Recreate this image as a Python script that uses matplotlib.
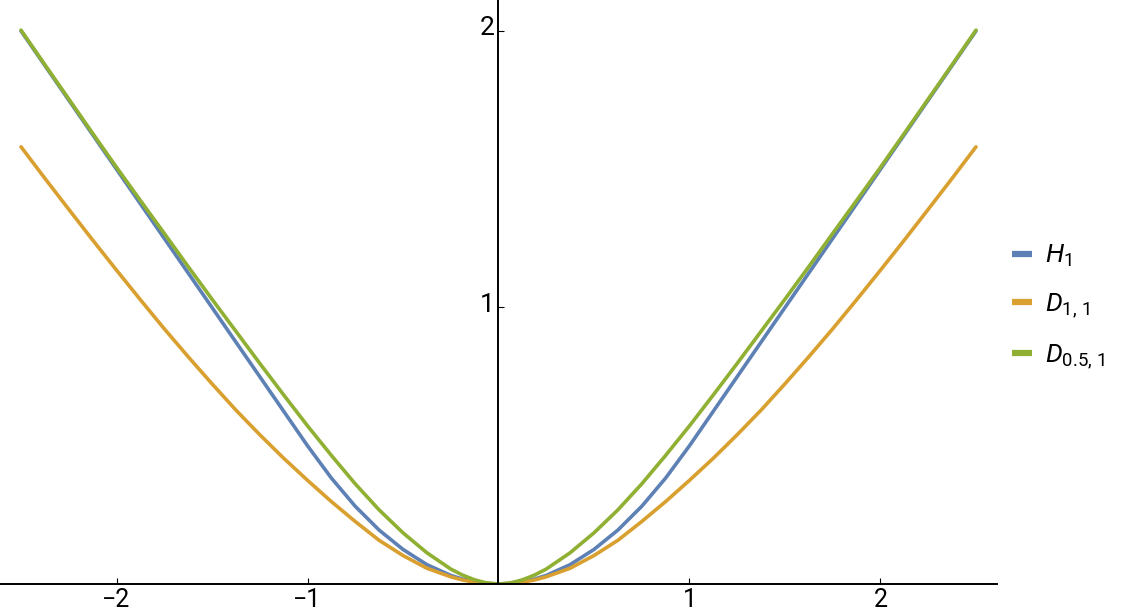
import matplotlib.pyplot as plt
from matplotlib.transforms import ScaledTranslation

plt.rcParams['font.family'] = ['Roboto', 'DejaVu Sans']
plt.rcParams['mathtext.fontset'] = 'custom'
plt.rcParams['mathtext.rm'] = 'Roboto'
plt.rcParams['mathtext.it'] = 'Roboto:italic'

x_vals = [-2.5, -2.375, -2.25, -2.125, -2.0, -1.875, -1.75, -1.625, -1.5, -1.375,
          -1.25, -1.125, -1.0, -0.875, -0.75, -0.625, -0.5, -0.375, -0.25, -0.1875,
          -0.125, -0.0625, 0.0, 0.0625, 0.125, 0.1875, 0.25, 0.375, 0.5, 0.625,
          0.75, 0.875, 1.0, 1.125, 1.25, 1.375, 1.5, 1.625, 1.75, 1.875,
          2.0, 2.125, 2.25, 2.375, 2.5]

h_1 = [2.0, 1.875, 1.75, 1.625, 1.5, 1.375, 1.25, 1.125, 1.0, 0.875,
       0.75, 0.625, 0.5, 0.383, 0.281, 0.195, 0.125, 0.070, 0.031, 0.0176,
       0.008, 0.002, 0.0, 0.002, 0.008, 0.0176, 0.031, 0.070, 0.125, 0.195,
       0.281, 0.383, 0.5, 0.625, 0.75, 0.875, 1.0, 1.125, 1.25, 1.375,
       1.5, 1.625, 1.75, 1.875, 2.0]

d_1_1 = [1.581, 1.467, 1.355, 1.244, 1.135, 1.028, 0.923, 0.822, 0.724, 0.629,
         0.54, 0.455, 0.375, 0.298, 0.226, 0.158, 0.103, 0.057, 0.026, 0.0145,
         0.0065, 0.0016, 0.0, 0.0016, 0.0065, 0.0145, 0.026, 0.057, 0.103, 0.158,
         0.226, 0.298, 0.375, 0.455, 0.54, 0.629, 0.724, 0.822, 0.923, 1.028,
         1.135, 1.244, 1.355, 1.467, 1.581]

d_05_1 = [2.003, 1.878, 1.754, 1.630, 1.507, 1.387, 1.268, 1.148, 1.03, 0.914,
          0.798, 0.684, 0.572, 0.465, 0.362, 0.268, 0.185, 0.113, 0.054, 0.032,
          0.015, 0.0038, 0.0, 0.0038, 0.015, 0.032, 0.054, 0.113, 0.185, 0.268,
          0.362, 0.465, 0.572, 0.684, 0.798, 0.914, 1.03, 1.148, 1.268, 1.387,
          1.507, 1.630, 1.754, 1.878, 2.003]

labels = [r'$H_1$', r'$D_{1,\,1}$', r'$D_{0.5,\,1}$']
colors = ['#5e81b5', '#d9a030', '#8fb032']

fig = plt.figure(figsize=(11.24, 6.16), dpi=100)
ax = fig.add_axes([0, 32 / 616, 997 / 1124, 584 / 616])

for ys, lab, col in zip([h_1, d_1_1, d_05_1], labels, colors):
    ax.plot(x_vals, ys, color=col, lw=2.6, label=lab, solid_capstyle='round')

ax.set_xlim(-2.61, 2.61)
ax.set_ylim(0, 2.112)

# axes through the origin, Mathematica style
ax.spines['left'].set_position(('data', 0))
ax.spines['bottom'].set_position(('data', 0))
ax.spines['top'].set_visible(False)
ax.spines['right'].set_visible(False)
for s in ['left', 'bottom']:
    ax.spines[s].set_linewidth(1.4)

ax.set_xticks([-2, -1, 1, 2])
ax.set_xticklabels(['\u22122', '\u22121', '1', '2'])
ax.set_yticks([1, 2])
ax.set_yticklabels(['1', '2'])
ax.tick_params(direction='in', length=4, width=0.8, colors='black')
ax.tick_params(axis='x', pad=3, labelsize=18)
ax.tick_params(axis='y', pad=3, labelsize=19)
for t in ax.get_yticklabels():
    t.set_transform(t.get_transform() + ScaledTranslation(0, 0.05, fig.dpi_scale_trans))

leg = ax.legend(loc='center left', bbox_to_anchor=(1012 / 1124, 1 - 307 / 616),
                bbox_transform=fig.transFigure, frameon=False, fontsize=19,
                handlelength=0.75, handletextpad=0.5, labelspacing=0.85,
                borderaxespad=0, borderpad=0)
for ln in leg.get_lines():
    ln.set_linewidth(4.5)
    ln.set_solid_capstyle('butt')

plt.savefig('out.png', dpi=100)
